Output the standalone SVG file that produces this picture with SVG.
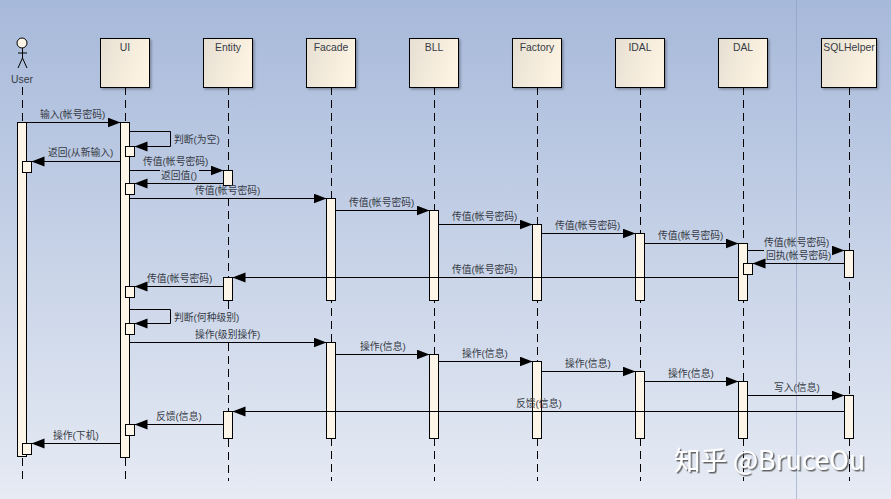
<svg xmlns="http://www.w3.org/2000/svg" width="891" height="499" viewBox="0 0 891 499">
<style>
text{font-family:"Liberation Sans","Noto Sans CJK SC",sans-serif;font-size:9.8px;fill:#363b45}
.t{text-anchor:middle;font-size:10.4px}
.box{fill:url(#cream);stroke:#000;stroke-width:1;filter:url(#sh)}
.life{stroke:#000;stroke-width:1;stroke-dasharray:8 5;fill:none}
.act{fill:#fdf5e7;stroke:#000;stroke-width:1}
.msg{stroke:#000;stroke-width:1;fill:none}
.head{marker-end:url(#ah)}
.wm{font-family:"Noto Sans CJK SC","Liberation Sans",sans-serif;font-size:26.5px;fill:#fff;filter:url(#ws)}
</style>
<defs>
<linearGradient id="bg" x1="0" y1="0" x2="0" y2="1"><stop offset="0" stop-color="#a7b9da"/><stop offset="1" stop-color="#e6ebf4"/></linearGradient>
<linearGradient id="cream" x1="0" y1="0" x2="1" y2="0.3"><stop offset="0" stop-color="#e6dfd2"/><stop offset="1" stop-color="#fdf3e2"/></linearGradient>
<marker id="ah" markerUnits="userSpaceOnUse" markerWidth="14" markerHeight="11" refX="13" refY="5" orient="auto"><path d="M0,0 L13,5 L0,10 z" fill="#000"/></marker>
<filter id="sh" x="-10%" y="-10%" width="130%" height="130%"><feDropShadow dx="1.5" dy="1.5" stdDeviation="1.2" flood-color="#000" flood-opacity="0.3"/></filter>
<filter id="ws" x="-5%" y="-20%" width="110%" height="150%"><feDropShadow dx="1.5" dy="1.5" stdDeviation="0.6" flood-color="#444" flood-opacity="0.8"/></filter>
</defs>
<rect width="891" height="499" fill="url(#bg)"/>
<path d="M796.5 0V499" stroke="#8e9dbf" stroke-opacity="0.6" stroke-width="1" fill="none"/>

<g id="node-user">
<path class="life" d="M22.5 87V122M22.5 458V479"/>
<circle cx="22" cy="43" r="5" fill="#fdf5e7" stroke="#000"/>
<path d="M22.5 48V58M18 53H27M22.5 58L18 68M22.5 58L27 68" stroke="#000" fill="none"/>
<text class="t" x="22" y="83">User</text>
<rect class="act" x="17.5" y="122.5" width="9" height="334"/>
<rect class="act" x="22.5" y="161.5" width="9" height="11"/>
<rect class="act" x="22.5" y="443.5" width="9" height="11"/>
</g>
<g id="node-ui">
<path class="life" d="M125.5 87V122M125.5 458V481"/>
<rect class="box" x="100.5" y="38.5" width="49" height="49"/>
<text class="t" x="125" y="51">UI</text>
<rect class="act" x="120.5" y="122.5" width="9" height="335"/>
<rect class="act" x="125.5" y="146.5" width="9" height="10"/>
<rect class="act" x="125.5" y="183.5" width="9" height="11"/>
<rect class="act" x="125.5" y="286.5" width="9" height="11"/>
<rect class="act" x="125.5" y="323.5" width="9" height="11"/>
<rect class="act" x="125.5" y="424.5" width="9" height="11"/>
</g>
<g id="node-entity">
<path class="life" d="M228.5 87V170"/>
<path class="life" d="M228.5 198V277"/>
<path class="life" d="M228.5 301V311"/>
<path class="life" d="M228.5 343V411"/>
<path class="life" d="M228.5 439V481"/>
<rect class="box" x="203.5" y="38.5" width="49" height="49"/>
<text class="t" x="228" y="51">Entity</text>
<rect class="act" x="223.5" y="170.5" width="9" height="15"/>
<rect class="act" x="223.5" y="277.5" width="9" height="23"/>
<rect class="act" x="223.5" y="411.5" width="9" height="27"/>
</g>
<g id="node-facade">
<path class="life" d="M331.5 87V481"/>
<rect class="box" x="306.5" y="38.5" width="49" height="49"/>
<text class="t" x="331" y="51">Facade</text>
<rect class="act" x="326.5" y="198.5" width="9" height="102"/>
<rect class="act" x="326.5" y="342.5" width="9" height="96"/>
</g>
<g id="node-bll">
<path class="life" d="M434.5 87V481"/>
<rect class="box" x="409.5" y="38.5" width="49" height="49"/>
<text class="t" x="434" y="51">BLL</text>
<rect class="act" x="429.5" y="210.5" width="9" height="90"/>
<rect class="act" x="429.5" y="354.5" width="9" height="84"/>
</g>
<g id="node-factory">
<path class="life" d="M537.5 87V481"/>
<rect class="box" x="512.5" y="38.5" width="49" height="49"/>
<text class="t" x="537" y="51">Factory</text>
<rect class="act" x="532.5" y="224.5" width="9" height="76"/>
<rect class="act" x="532.5" y="361.5" width="9" height="77"/>
</g>
<g id="node-idal">
<path class="life" d="M640.5 87V481"/>
<rect class="box" x="615.5" y="38.5" width="49" height="49"/>
<text class="t" x="640" y="51">IDAL</text>
<rect class="act" x="635.5" y="233.5" width="9" height="67"/>
<rect class="act" x="635.5" y="371.5" width="9" height="67"/>
</g>
<g id="node-dal">
<path class="life" d="M743.5 87V481"/>
<rect class="box" x="718.5" y="38.5" width="49" height="49"/>
<text class="t" x="743" y="51">DAL</text>
<rect class="act" x="738.5" y="243.5" width="9" height="57"/>
<rect class="act" x="743.5" y="263.5" width="9" height="11"/>
<rect class="act" x="738.5" y="381.5" width="9" height="57"/>
</g>
<g id="node-sqlhelper">
<path class="life" d="M849.5 87V481"/>
<rect class="box" x="821.5" y="38.5" width="55" height="49"/>
<text class="t" x="849" y="51">SQLHelper</text>
<rect class="act" x="844.5" y="250.5" width="9" height="27"/>
<rect class="act" x="844.5" y="395.5" width="9" height="43"/>
</g>

<g id="connectors">
<path class="msg head" d="M26.5 122.5H120.5"/>
<path class="msg head" d="M129.5 131.5H170.5V146.5H134.5"/>
<path class="msg head" d="M120.5 161.5H31.5"/>
<path class="msg" d="M129.5 170.5H160"/>
<path class="msg head" d="M199 170.5H223.5"/>
<path class="msg head" d="M223.5 183.5H134.5"/>
<path class="msg head" d="M129.5 198.5H326.5"/>
<path class="msg head" d="M335.5 210.5H429.5"/>
<path class="msg head" d="M438.5 224.5H532.5"/>
<path class="msg head" d="M541.5 233.5H635.5"/>
<path class="msg head" d="M644.5 243.5H738.5"/>
<path class="msg" d="M747.5 250.5H764"/>
<path class="msg head" d="M832 250.5H844.5"/>
<path class="msg head" d="M844.5 263.5H752.5"/>
<path class="msg head" d="M738.5 277.5H232.5"/>
<path class="msg head" d="M223.5 286.5H134.5"/>
<path class="msg head" d="M129.5 309.5H170.5V323.5H134.5"/>
<path class="msg head" d="M129.5 342.5H326.5"/>
<path class="msg head" d="M335.5 354.5H429.5"/>
<path class="msg head" d="M438.5 361.5H532.5"/>
<path class="msg head" d="M541.5 371.5H635.5"/>
<path class="msg head" d="M644.5 381.5H738.5"/>
<path class="msg head" d="M747.5 395.5H844.5"/>
<path class="msg head" d="M844.5 411.5H232.5"/>
<path class="msg head" d="M223.5 424.5H134.5"/>
<path class="msg head" d="M120.5 443.5H31.5"/>
<text x="40" y="118">输入(帐号密码)</text>
<text x="174" y="143">判断(为空)</text>
<text x="48" y="156">返回(从新输入)</text>
<text x="143" y="165">传值(帐号密码)</text>
<text x="161" y="179">返回值()</text>
<text x="195" y="194">传值(帐号密码)</text>
<text x="349" y="206">传值(帐号密码)</text>
<text x="452" y="220">传值(帐号密码)</text>
<text x="555" y="229">传值(帐号密码)</text>
<text x="658" y="239">传值(帐号密码)</text>
<text x="764" y="246">传值(帐号密码)</text>
<text x="766" y="259">回执(帐号密码)</text>
<text x="452" y="273">传值(帐号密码)</text>
<text x="147" y="282">传值(帐号密码)</text>
<text x="174" y="321">判断(何种级别)</text>
<text x="195" y="338">操作(级别操作)</text>
<text x="360" y="350">操作(信息)</text>
<text x="462" y="357">操作(信息)</text>
<text x="565" y="367">操作(信息)</text>
<text x="668" y="377">操作(信息)</text>
<text x="774" y="391">写入(信息)</text>
<text x="516" y="407">反馈(信息)</text>
<text x="156" y="420">反馈(信息)</text>
<text x="53" y="439">操作(下机)</text>
</g>
<text class="wm" x="674" y="470">知乎 @BruceOu</text>
</svg>
